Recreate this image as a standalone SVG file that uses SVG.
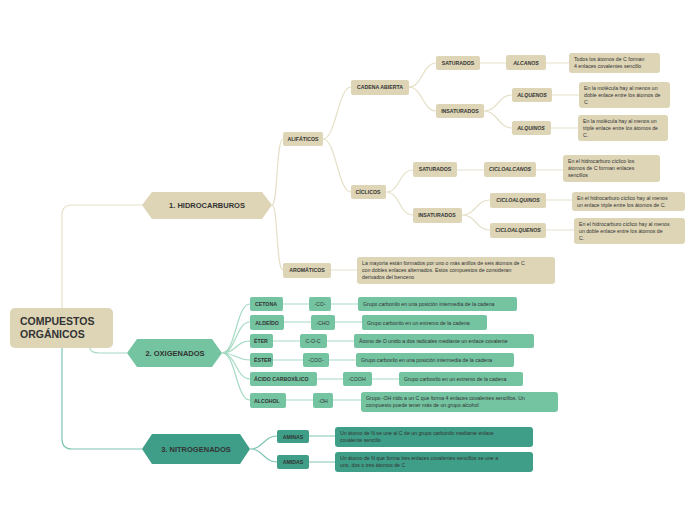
<svg xmlns="http://www.w3.org/2000/svg" width="696" height="520" viewBox="0 0 696 520">
<style>
text{font-family:"Liberation Sans",Arial,sans-serif;fill:#333}
.b{fill:#ddd5b6}.g{fill:#74c3a1}.t{fill:#3f9e87}
.l{font-size:5.2px;font-weight:bold}
.i{font-style:italic}
.d{font-size:5.2px}
.cb{fill:none;stroke:#e6e0c9;stroke-width:1.2}
.cg{fill:none;stroke:#a6dac3;stroke-width:1.2}
.ct{fill:none;stroke:#7fc5b4;stroke-width:1.2}
</style>
<rect width="696" height="520" fill="#fff"/>
<g id="connectors">
<path class="cb" d="M62 308 V215 Q62 205 72 205 H142"/>
<path class="cg" d="M90 348 Q90 353 100 353 H127"/>
<path class="ct" d="M62 348 V439 Q62 449 72 449 H142"/>
<path class="cb" d="M272 205 C278 205 276 139 283 139"/>
<path class="cb" d="M272 205 C278 205 276 270 283 270"/>
<path class="cb" d="M323 139 C336 139 338 87 351 87"/>
<path class="cb" d="M323 139 C336 139 338 192 351 192"/>
<path class="cb" d="M409 87 C422 87 423 63 436 63"/>
<path class="cb" d="M409 87 C422 87 423 111 436 111"/>
<path class="cb" d="M480 63 H506 M546 63 H569"/>
<path class="cb" d="M484 111 C498 111 498 95 512 95 M484 111 C498 111 498 128 512 128"/>
<path class="cb" d="M552 95 H579 M551 128 H578"/>
<path class="cb" d="M386 192 C400 192 399 170 413 170 M386 192 C400 192 399 215 413 215"/>
<path class="cb" d="M457 170 H484 M536 170 H563"/>
<path class="cb" d="M462 215 C476 215 476 200 490 200 M462 215 C476 215 476 230 490 230"/>
<path class="cb" d="M546 200 H572 M546 230 H574 M331 270 H357"/>
<path class="cg" d="M222 353 C236 353 236 304 250 304 M222 353 C236 353 236 322 250 322 M222 353 C236 353 236 341 250 341 M222 353 C236 353 236 360 250 360 M222 353 C236 353 236 379 250 379 M222 353 C236 353 236 400 250 400"/>
<path class="cg" d="M283 304 H358 M284 322 H362 M273 341 H354 M273 360 H356 M317 379 H399 M286 400 H361"/>
<path class="ct" d="M250 449 C263 449 264 436 277 436 M250 449 C263 449 264 462 277 462 M309 436 H335 M309 462 H335"/>
</g>
<g id="root"><rect x="10" y="308" width="103" height="40" rx="5" class="b"/><text x="20" y="325" font-size="10.5" font-weight="bold" fill="#222">COMPUESTOS</text><text x="20" y="338" font-size="10.5" font-weight="bold" fill="#222">ORGÁNICOS</text></g>
<g id="hidrocarburos"><polygon points="142,205 152,192 262,192 272,205 262,219 152,219" class="b"/><text x="207" y="208" text-anchor="middle" font-size="7.5" font-weight="bold">1. HIDROCARBUROS</text></g>
<g id="oxigenados"><polygon points="127,353 137,339 212,339 222,353 212,367 137,367" class="g"/><text x="175" y="356" text-anchor="middle" font-size="7.5" font-weight="bold">2. OXIGENADOS</text></g>
<g id="nitrogenados"><polygon points="142,449 152,434 240,434 250,449 240,464 152,464" class="t"/><text x="196" y="452" text-anchor="middle" font-size="7.5" font-weight="bold">3. NITROGENADOS</text></g>
<g id="alifaticos"><rect x="283" y="132" width="40" height="14" rx="2" class="b"/><text x="303" y="141" text-anchor="middle" class="l">ALIFÁTICOS</text></g>
<g id="aromaticos"><rect x="283" y="263" width="48" height="15" rx="2" class="b"/><text x="307" y="272" text-anchor="middle" class="l">AROMÁTICOS</text></g>
<g id="aromaticos-d"><rect x="357" y="257" width="198" height="27" rx="3" class="b"/><text class="d" x="362" y="265">La mayoría están formados por uno o más anillos de seis átomos de C</text><text class="d" x="362" y="272">con dobles enlaces alternados. Estos compuestos de consideran</text><text class="d" x="362" y="279">derivados del benceno</text></g>
<g id="cadena"><rect x="351" y="80" width="58" height="15" rx="2" class="b"/><text x="380" y="89" text-anchor="middle" class="l">CADENA ABIERTA</text></g>
<g id="ciclicos"><rect x="351" y="185" width="35" height="14" rx="2" class="b"/><text x="368" y="194" text-anchor="middle" class="l">CÍCLICOS</text></g>
<g id="sat1"><rect x="436" y="56" width="44" height="14" rx="2" class="b"/><text x="458" y="65" text-anchor="middle" class="l">SATURADOS</text></g>
<g id="insat1"><rect x="436" y="104" width="48" height="14" rx="2" class="b"/><text x="460" y="113" text-anchor="middle" class="l">INSATURADOS</text></g>
<g id="alcanos"><rect x="506" y="55" width="40" height="15" rx="2" class="b"/><text x="526" y="65" text-anchor="middle" class="l i">ALCANOS</text></g>
<g id="alcanos-d"><rect x="569" y="53" width="91" height="20" rx="3" class="b"/><text class="d" x="574" y="61">Todos los átomos de C forman</text><text class="d" x="574" y="68">4 enlaces covalentes sencillo</text></g>
<g id="alquenos"><rect x="512" y="88" width="40" height="14" rx="2" class="b"/><text x="532" y="97" text-anchor="middle" class="l i">ALQUENOS</text></g>
<g id="alquenos-d"><rect x="579" y="82" width="91" height="26" rx="3" class="b"/><text class="d" x="584" y="90">En la molécula hay al menos un</text><text class="d" x="584" y="97">doble enlace entre los átomos de</text><text class="d" x="584" y="104">C</text></g>
<g id="alquinos"><rect x="512" y="121" width="39" height="14" rx="2" class="b"/><text x="531" y="130" text-anchor="middle" class="l i">ALQUINOS</text></g>
<g id="alquinos-d"><rect x="578" y="115" width="90" height="26" rx="3" class="b"/><text class="d" x="583" y="123">En la molécula hay al menos un</text><text class="d" x="583" y="130">triple enlace entre los átomos de</text><text class="d" x="583" y="137">C.</text></g>
<g id="sat2"><rect x="413" y="162" width="44" height="15" rx="2" class="b"/><text x="435" y="171" text-anchor="middle" class="l">SATURADOS</text></g>
<g id="insat2"><rect x="413" y="208" width="49" height="15" rx="2" class="b"/><text x="437" y="217" text-anchor="middle" class="l">INSATURADOS</text></g>
<g id="cicloalcanos"><rect x="484" y="162" width="52" height="15" rx="2" class="b"/><text x="510" y="171" text-anchor="middle" class="l i">CICLOALCANOS</text></g>
<g id="cicloalcanos-d"><rect x="563" y="155" width="97" height="27" rx="3" class="b"/><text class="d" x="568" y="163">En el hidrocarburo cíclico los</text><text class="d" x="568" y="170">átomos de C forman enlaces</text><text class="d" x="568" y="177">sencillos</text></g>
<g id="cicloalquinos"><rect x="490" y="193" width="56" height="15" rx="2" class="b"/><text x="518" y="202" text-anchor="middle" class="l i">CICLOALQUINOS</text></g>
<g id="cicloalquinos-d"><rect x="572" y="192" width="113" height="19" rx="3" class="b"/><text class="d" x="577" y="200">En el hidrocarburo cíclico hay al menos</text><text class="d" x="577" y="207">un enlace triple entre los átomos de C.</text></g>
<g id="cicloalquenos"><rect x="490" y="223" width="56" height="15" rx="2" class="b"/><text x="518" y="232" text-anchor="middle" class="l i">CICLOALQUENOS</text></g>
<g id="cicloalquenos-d"><rect x="574" y="218" width="111" height="26" rx="3" class="b"/><text class="d" x="579" y="226">En el hidrocarburo cíclico hay al menos</text><text class="d" x="579" y="233">un doble enlace entre los átomos de</text><text class="d" x="579" y="240">C.</text></g>
<g id="cetona"><rect x="250" y="297" width="33" height="14" rx="2" class="g"/><text x="266" y="306" text-anchor="middle" class="l">CETONA</text><rect x="309" y="297" width="22" height="14" rx="2" class="g"/><text x="320" y="306" text-anchor="middle" class="d">-CO-</text><rect x="358" y="297" width="159" height="14" rx="2" class="g"/><text x="363" y="306" class="d">Grupo carbonilo en una posición intermedia de la cadena</text></g>
<g id="aldeido"><rect x="250" y="315" width="34" height="15" rx="2" class="g"/><text x="267" y="325" text-anchor="middle" class="l">ALDEÍDO</text><rect x="311" y="315" width="24" height="15" rx="2" class="g"/><text x="323" y="325" text-anchor="middle" class="d">-CHO</text><rect x="362" y="315" width="125" height="15" rx="2" class="g"/><text x="367" y="325" class="d">Grupo carbonilo en un extremo de la cadena</text></g>
<g id="eter"><rect x="250" y="334" width="23" height="14" rx="2" class="g"/><text x="254" y="343" class="l">ÉTER</text><rect x="300" y="334" width="27" height="14" rx="2" class="g"/><text x="313" y="343" text-anchor="middle" class="d">C-O-C</text><rect x="354" y="334" width="180" height="14" rx="2" class="g"/><text x="359" y="343" class="d">Átomo de O unido a dos radicales mediante un enlace covalente</text></g>
<g id="ester"><rect x="250" y="353" width="23" height="14" rx="2" class="g"/><text x="254" y="362" class="l">ÉSTER</text><rect x="303" y="353" width="26" height="14" rx="2" class="g"/><text x="316" y="362" text-anchor="middle" class="d">-COO-</text><rect x="356" y="353" width="158" height="14" rx="2" class="g"/><text x="361" y="362" class="d">Grupo carboxilo en una posición intermedia de la cadena</text></g>
<g id="acido"><rect x="250" y="372" width="67" height="14" rx="2" class="g"/><text x="254" y="381" class="l">ÁCIDO CARBOXÍLICO</text><rect x="343" y="372" width="29" height="14" rx="2" class="g"/><text x="357" y="381" text-anchor="middle" class="d">-COOH</text><rect x="399" y="372" width="124" height="14" rx="2" class="g"/><text x="404" y="381" class="d">Grupo carboxilo en un extremo de la cadena</text></g>
<g id="alcohol"><rect x="250" y="393" width="36" height="15" rx="2" class="g"/><text x="254" y="403" class="l">ALCOHOL</text><rect x="313" y="393" width="20" height="15" rx="2" class="g"/><text x="323" y="403" text-anchor="middle" class="d">-OH</text><rect x="361" y="392" width="197" height="20" rx="3" class="g"/><text class="d" x="366" y="400">Grupo -OH nido a un C que forma 4 enlaces covalentes sencillos. Un</text><text class="d" x="366" y="407">compuesto puede tener más de un grupo alcohol</text></g>
<g id="aminas"><rect x="277" y="430" width="32" height="13" rx="2" class="t"/><text x="293" y="438.5" text-anchor="middle" class="l">AMINAS</text><rect x="335" y="427" width="198" height="20" rx="3" class="t"/><text class="d" x="340" y="435">Un átomo de N se une al C de un grupo carbonilo mediante enlace</text><text class="d" x="340" y="442">covalente sencillo</text></g>
<g id="amidas"><rect x="277" y="455" width="32" height="14" rx="2" class="t"/><text x="293" y="464" text-anchor="middle" class="l">AMIDAS</text><rect x="335" y="452" width="198" height="20" rx="3" class="t"/><text class="d" x="340" y="460">Un átomo de N que forma tres enlaces covalentes sencillos se une a</text><text class="d" x="340" y="467">uno, dos o tres átomos de C</text></g>
</svg>
